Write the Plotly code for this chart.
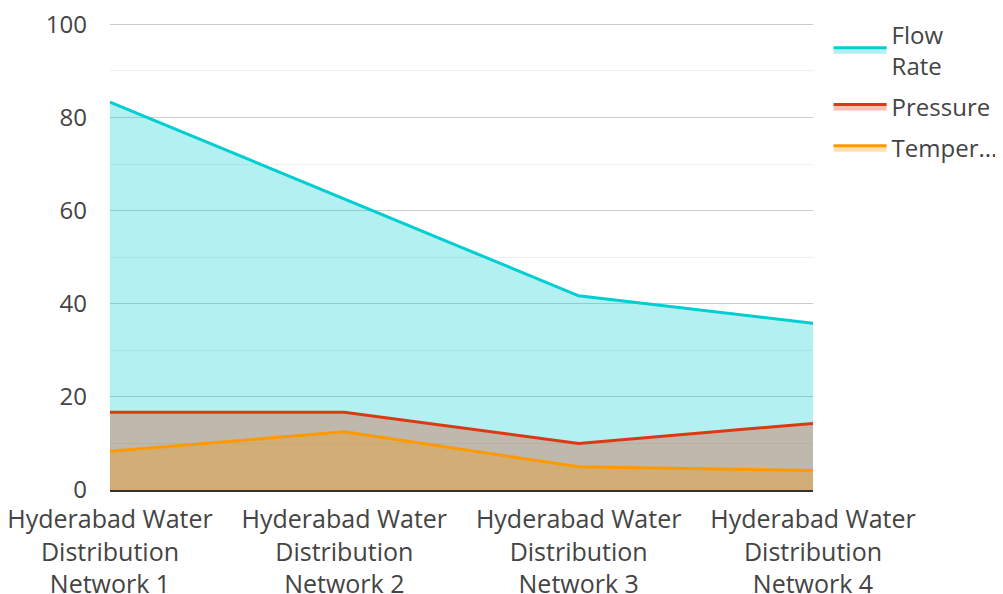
import plotly.graph_objects as go

categories = ["Hyderabad Water<br>Distribution<br>Network 1",
              "Hyderabad Water<br>Distribution<br>Network 2",
              "Hyderabad Water<br>Distribution<br>Network 3",
              "Hyderabad Water<br>Distribution<br>Network 4"]
flow_rate = [83.3, 62.5, 41.7, 35.8]
pressure = [16.7, 16.7, 10.0, 14.3]
temperature = [8.3, 12.5, 5.0, 4.2]
series_names = ["Flow<br>Rate", "Pressure", "Temper..."]
line_colors = ["#00CED1", "#DC3912", "#FF9900"]
fill_colors = ["rgba(0,206,209,0.3)", "rgba(220,57,18,0.3)", "rgba(255,153,0,0.3)"]

fig = go.Figure()
for i, (name, vals, lc, fc) in enumerate(zip(series_names, [flow_rate, pressure, temperature], line_colors, fill_colors)):
    fig.add_trace(go.Scatter(x=categories, y=vals, name=name, mode="lines", legendgroup=f"g{i}",
                             line=dict(color=lc, width=3), fill="tozeroy", fillcolor=fc))

font = dict(family="Open Sans", size=24, color="#444")
xfont = dict(family="Open Sans", size=25, color="#444")
fig.update_layout(
    width=995, height=586,
    margin=dict(l=102, r=190, t=15, b=104),
    paper_bgcolor="white", plot_bgcolor="white",
    font=font,
    showlegend=True,
    legend=dict(x=0.8247, y=0.993, xref="container", yref="container",
                xanchor="left", yanchor="top", font=font,
                itemwidth=53, tracegroupgap=7),
    xaxis=dict(showgrid=False, range=[0, 3], tickfont=xfont, ticks="", automargin=False,
               ticklabelstandoff=6, ticklabeloverflow="allow",
               showline=True, linecolor="#333", linewidth=2),
    yaxis=dict(range=[0, 100.3], tickvals=[0, 20, 40, 60, 80, 100], showgrid=True,
               gridcolor="#ccc", gridwidth=1, ticklabelstandoff=22, ticklabeloverflow="allow",
               minor=dict(tickvals=[10, 30, 50, 70, 90], showgrid=True, gridcolor="#eee"),
               automargin=False, zeroline=False, tickfont=font, ticks="", showline=False),
)
fig.write_html("out.html")
